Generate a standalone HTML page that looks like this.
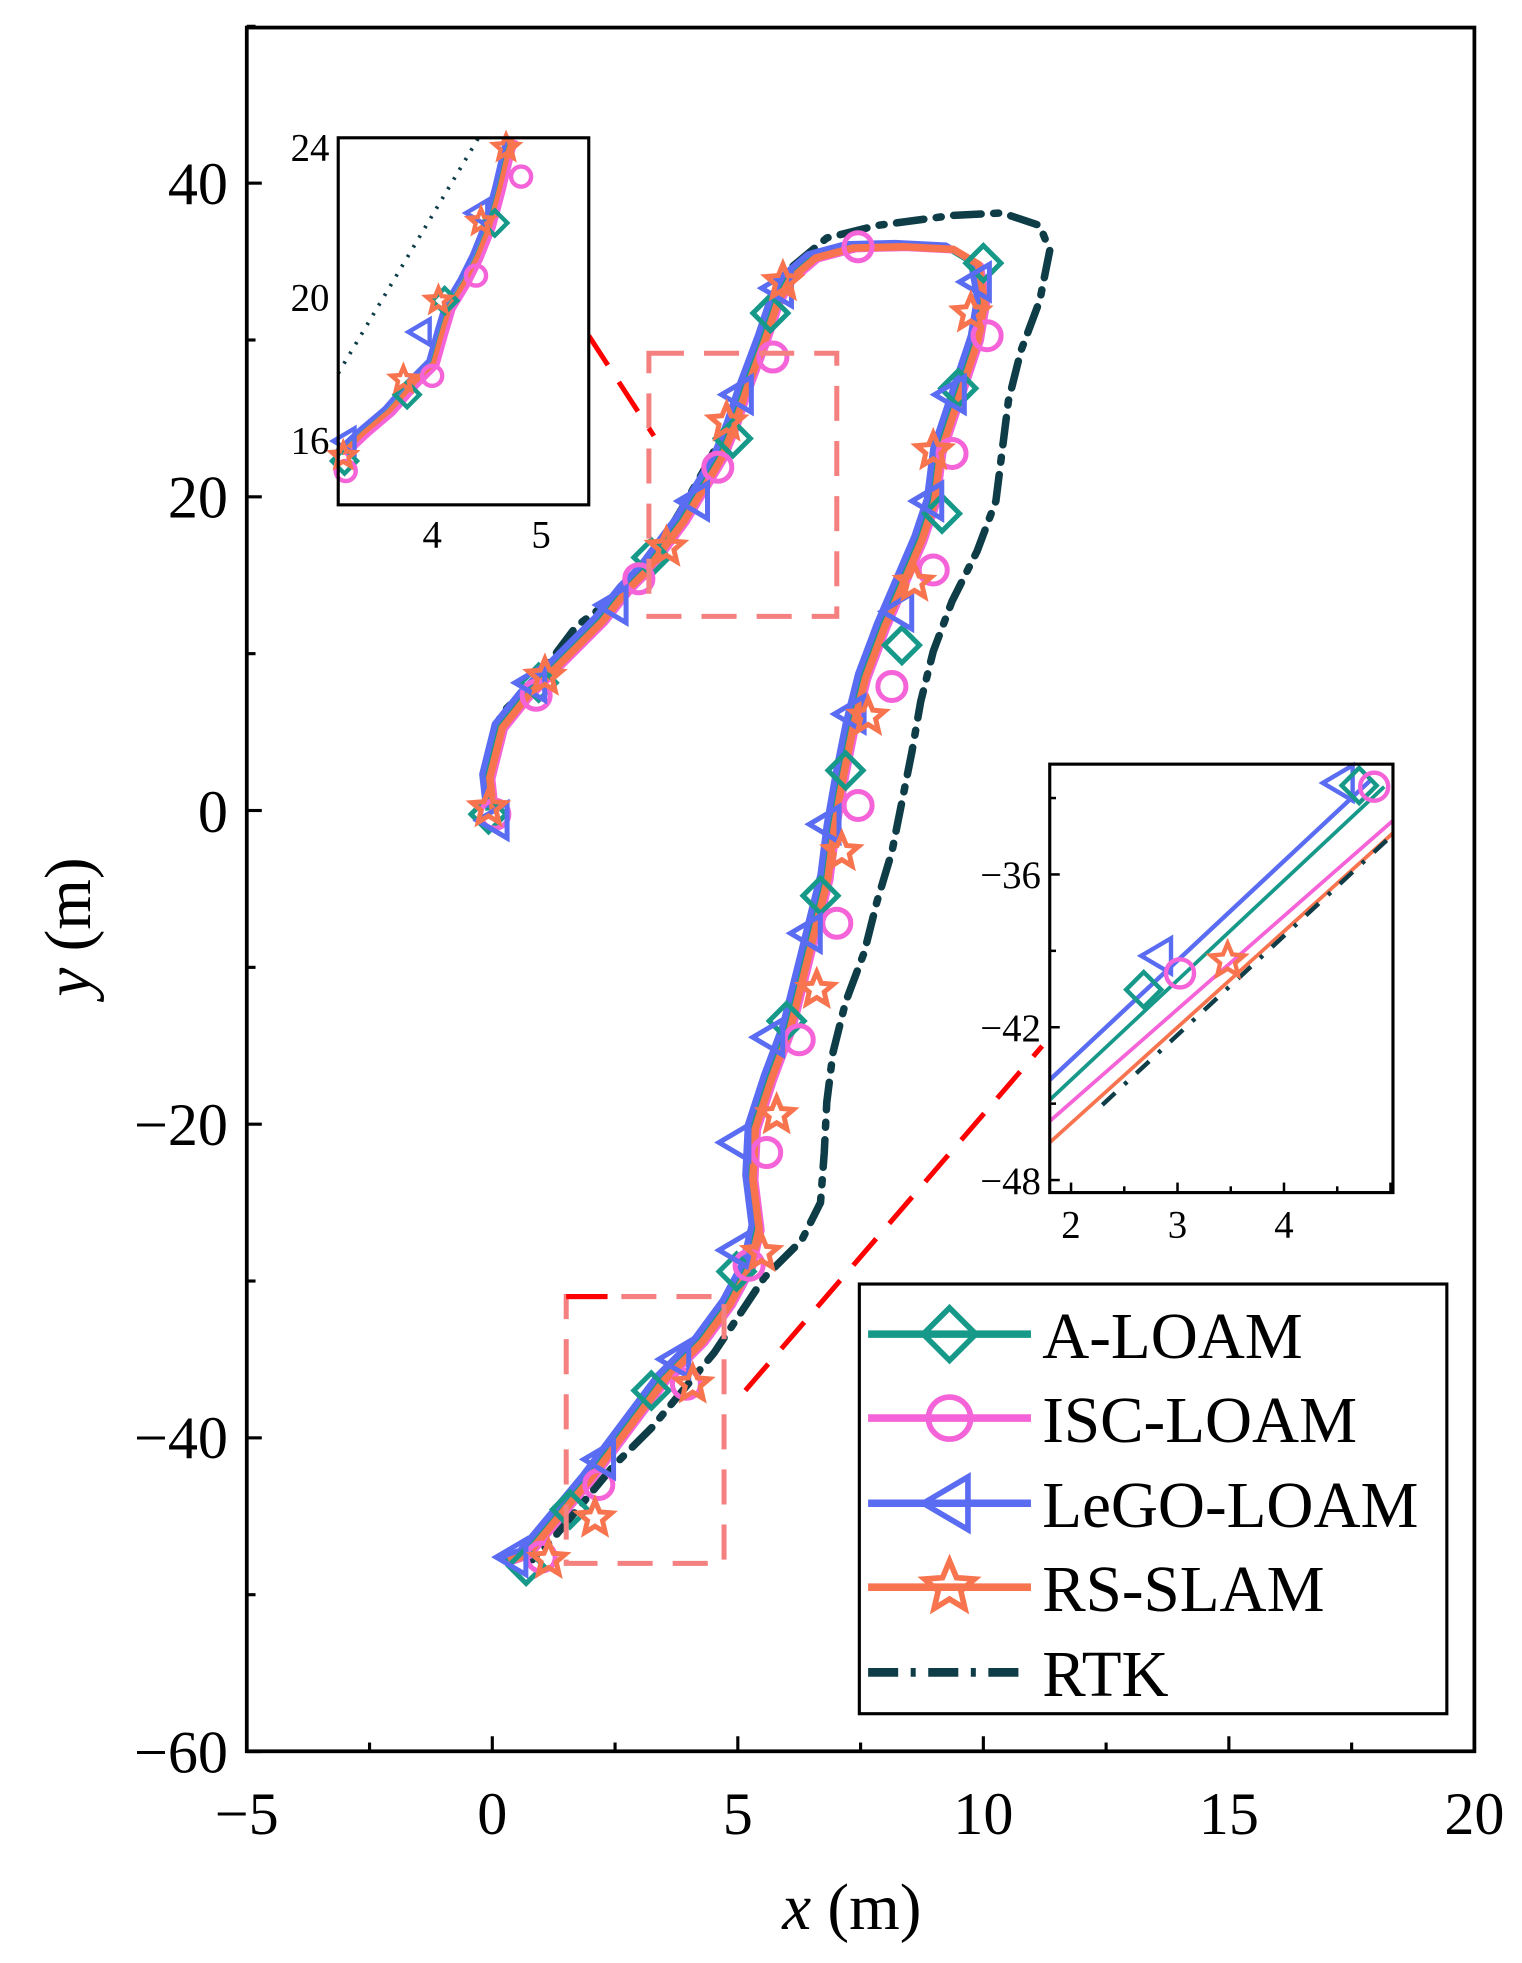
<!DOCTYPE html>
<html><head><meta charset="utf-8"><style>
html,body{margin:0;padding:0;background:#fff}
svg{display:block}
text{font-family:"Liberation Serif",serif;fill:#000}
</style></head><body>
<svg id="s" width="1522" height="1963" viewBox="0 0 1215 1567" preserveAspectRatio="none" xmlns="http://www.w3.org/2000/svg">
<rect width="1215" height="1567" fill="#fff"/>
<g id="main"></g>
<rect x="197" y="22" width="980" height="1376" fill="none" stroke="#000" stroke-width="3"/>
<g id="ticks" stroke="#000" stroke-width="2.5"></g>
<g font-size="48" text-anchor="middle">
<text x="197" y="1464">−5</text><text x="393" y="1464">0</text><text x="589" y="1464">5</text><text x="785" y="1464">10</text><text x="981" y="1464">15</text><text x="1177" y="1464">20</text>
</g>
<g font-size="48" text-anchor="end">
<text x="182" y="163">40</text><text x="182" y="413">20</text><text x="182" y="664">0</text><text x="182" y="914">−20</text><text x="182" y="1164">−40</text><text x="182" y="1415">−60</text>
</g>
<text x="680" y="1540" font-size="52" text-anchor="middle"><tspan font-style="italic">x</tspan> (m)</text>
<text transform="translate(72,740) rotate(-90)" font-size="52" text-anchor="middle"><tspan font-style="italic">y</tspan> (m)</text>
<rect x="518" y="282" width="150" height="210" fill="none" stroke="#f58080" stroke-width="4" stroke-dasharray="28,16"/>
<line x1="470" y1="268" x2="522" y2="348" stroke="#f00" stroke-width="4" stroke-dasharray="28,16"/>
<rect x="452" y="1035" width="126" height="213" fill="none" stroke="#f58080" stroke-width="4" stroke-dasharray="28,16"/>
<line x1="452" y1="1035" x2="485" y2="1035" stroke="#f00" stroke-width="4"/>
<line x1="595" y1="1110" x2="832" y2="835" stroke="#f00" stroke-width="4" stroke-dasharray="28,16"/>
<rect x="270" y="110" width="200" height="293" fill="#fff"/>
<g id="in1"></g>
<rect x="270" y="110" width="200" height="293" fill="none" stroke="#000" stroke-width="2.5"/>
<g font-size="31" text-anchor="middle"><text x="345" y="437">4</text><text x="432" y="437">5</text></g>
<g font-size="31" text-anchor="end"><text x="263" y="128">24</text><text x="263" y="248">20</text><text x="263" y="362">16</text></g>
<rect x="838" y="610" width="274" height="342" fill="#fff"/>
<g id="in2"></g>
<rect x="838" y="610" width="274" height="342" fill="none" stroke="#000" stroke-width="2.5"/>
<g font-size="31" text-anchor="middle"><text x="855" y="988">2</text><text x="940" y="988">3</text><text x="1025" y="988">4</text></g>
<g font-size="31" text-anchor="end"><text x="831" y="709">−36</text><text x="831" y="831">−42</text><text x="831" y="953">−48</text></g>
<rect x="686" y="1025" width="469" height="343" fill="#fff" stroke="#000" stroke-width="2.5"/>
<g id="leg"></g>
<g font-size="52"><text x="832" y="1084">A-LOAM</text><text x="832" y="1151">ISC-LOAM</text><text x="832" y="1219">LeGO-LOAM</text><text x="832" y="1286">RS-SLAM</text><text x="832" y="1354">RTK</text></g>
</svg>
<script>
const NS="http://www.w3.org/2000/svg";
function el(p,t,a){const e=document.createElementNS(NS,t);for(const k in a)e.setAttribute(k,a[k]);p.appendChild(e);return e;}
const C={a:"#17998a",i:"#f563d8",l:"#5a6cf2",r:"#f7744f",t:"#0e3d48"};
function pth(pts,dx,dy){return "M"+pts.map(p=>(p[0]+dx)+","+(p[1]+dy)).join(" L");}
function marker(g,type,x,y,s,col,w){
 if(type=="a"){el(g,"polygon",{points:`${x},${y-s} ${x+s},${y} ${x},${y+s} ${x-s},${y}`,fill:"none",stroke:col,"stroke-width":w});}
 else if(type=="i"){el(g,"circle",{cx:x,cy:y,r:s*0.8,fill:"none",stroke:col,"stroke-width":w});}
 else if(type=="l"){el(g,"polygon",{points:`${x-s},${y} ${x+s*0.7},${y-s} ${x+s*0.7},${y+s}`,fill:"none",stroke:col,"stroke-width":w});}
 else if(type=="r"){let p=[];for(let k=0;k<10;k++){const a=-Math.PI/2+k*Math.PI/5,rr=k%2?s*0.45:s;p.push((x+rr*Math.cos(a)).toFixed(1)+","+(y+rr*Math.sin(a)).toFixed(1));}
  el(g,"polygon",{points:p.join(" "),fill:"none",stroke:col,"stroke-width":w});}
}
const main=document.getElementById("main");
const P=[[393,647],[390,620],[400,580],[420,555],[440,535],[460,515],[480,495],[500,470],[515,455],[530,435],[545,415],[560,390],[575,365],[585,340],[595,310],[610,270],[620,240],[630,222],[650,205],[680,197],[720,196],[760,198],[780,210],[785,240],[780,270],[770,300],[760,330],[750,360],[745,400],[735,430],[720,465],[705,500],[690,540],[680,580],[672,620],[665,660],[660,700],[650,740],[640,780],[630,820],[615,860],[602,900],[600,940],[605,980],[598,1010],[582,1040],[560,1070],[530,1100],[500,1140],[470,1180],[445,1210],[420,1240],[405,1245]];
const R=[[390,640],[388,610],[400,570],[430,540],[460,500],[500,470],[530,430],[545,405],[565,370],[580,340],[600,290],[615,250],[630,215],[660,190],[700,180],[760,172],[800,170],[830,180],[838,200],[830,240],[815,280],[805,320],[800,360],[795,400],[780,440],[760,480],[745,520],[735,560],[728,600],[720,640],[712,680],[700,720],[690,760],[675,800],[665,840],[660,880],[658,920],[655,960],[640,990],[610,1020],[590,1050],[570,1080],[545,1110],[520,1140],[490,1170],[465,1200],[440,1230],[425,1245]];
el(main,"path",{d:pth(R,0,0),fill:"none",stroke:C.t,"stroke-width":6,"stroke-dasharray":"22,10,4,10","stroke-linecap":"round"});
el(main,"path",{d:pth(P,-3,0),fill:"none",stroke:C.a,"stroke-width":5});
el(main,"path",{d:pth(P,-5,-2),fill:"none",stroke:C.l,"stroke-width":5});
el(main,"path",{d:pth(P,3,2),fill:"none",stroke:C.i,"stroke-width":5});
el(main,"path",{d:pth(P,1,1),fill:"none",stroke:C.r,"stroke-width":6});
const M={a:[[390,650],[430,545],[520,445],[585,350],[615,250],[785,210],[765,310],[752,410],[720,515],[675,615],[655,715],[628,815],[588,1015],[520,1110],[455,1205],[420,1250]],
i:[[395,650],[428,555],[510,462],[573,373],[617,285],[685,197],[788,268],[760,362],[745,455],[712,548],[685,643],[668,737],[638,830],[612,920],[598,1010],[548,1105],[478,1185],[432,1243]],
l:[[395,655],[425,545],[490,483],[555,400],[590,315],[622,230],[780,225],[760,315],[742,400],[718,488],[680,570],[660,658],[645,745],[615,828],[588,912],[588,998],[540,1085],[480,1165],[410,1243]],
r:[[390,645],[435,540],[532,437],[580,337],[625,225],[775,250],[745,360],[730,465],[693,572],[672,680],[652,790],[620,890],[608,1000],[553,1105],[475,1212],[438,1245]]};
for(const k of ["a","i","l","r"])for(const p of M[k])marker(main,k,p[0],p[1],14,C[k],4);
const t=document.getElementById("ticks");
for(let v=-5;v<=20;v+=2.5){const x=197+(v+5)*39.2,L=(v%5==0)?12:7;el(t,"line",{x1:x,y1:1398,x2:x,y2:1398-L});}
for(let v=-60;v<=50;v+=10){const y=647-v*12.52,L=(v%20==0)?12:7;el(t,"line",{x1:197,y1:y,x2:197+L,y2:y});}
const g1=document.getElementById("in1");
const Q=[[272,362],[290,345],[310,328],[330,305],[345,290],[352,265],[358,245],[370,225],[380,205],[390,180],[398,150],[405,120],[408,110]];
el(g1,"path",{d:"M270,298 L382,110",stroke:C.t,"stroke-width":3,"stroke-dasharray":"2,7",fill:"none"});
el(g1,"path",{d:pth(Q,0,0),stroke:C.a,"stroke-width":3.5,fill:"none"});
el(g1,"path",{d:pth(Q,-3,-2),stroke:C.l,"stroke-width":3.5,fill:"none"});
el(g1,"path",{d:pth(Q,4,2),stroke:C.i,"stroke-width":3.5,fill:"none"});
el(g1,"path",{d:pth(Q,1,0),stroke:C.r,"stroke-width":4,fill:"none"});
[[275,368,"a"],[325,315,"a"],[355,240,"a"],[395,178,"a"],[276,376,"i"],[345,300,"i"],[380,220,"i"],[416,141,"i"],[276,352,"l"],[336,265,"l"],[382,170,"l"],[274,364,"r"],[322,303,"r"],[350,240,"r"],[384,177,"r"],[404,118,"r"]].forEach(m=>marker(g1,m[2],m[0],m[1],10,C[m[2]],3.5));
const g2=document.getElementById("in2");
function line2(x1,y1,x2,y2,c,w,da){const a={d:`M${x1},${y1} L${x2},${y2}`,stroke:c,"stroke-width":w,fill:"none"};if(da)a["stroke-dasharray"]=da;el(g2,"path",a);}
line2(838,862,1095,622,C.l,3.5);
line2(838,878,1105,628,C.a,3);
line2(838,895,1112,655,C.i,3);
line2(838,912,1112,665,C.r,3);
line2(880,882,1110,668,C.t,3.5,"14,10,3,10");
[[913,790,"a"],[925,763,"l"],[942,777,"i"],[980,767,"r"],[1070,625,"l"],[1085,627,"a"],[1097,628,"i"]].forEach(m=>marker(g2,m[2],m[0],m[1],14,C[m[2]],3.5));
for(let v=2;v<=5;v+=0.5){const x=855+(v-2)*85;el(g2,"line",{x1:x,y1:952,x2:x,y2:952-(v%1==0?8:5),stroke:"#000","stroke-width":2});}
for(let v=-48;v<=-33;v+=3){const y=942-(v+48)*20.33;el(g2,"line",{x1:838,y1:y,x2:838+(v%6==0?8:5),y2:y,stroke:"#000","stroke-width":2});}
const lg=document.getElementById("leg");const ys=[1065,1132,1200,1267,1335];
["a","i","l","r"].forEach((k,i)=>{el(lg,"line",{x1:693,y1:ys[i],x2:823,y2:ys[i],stroke:C[k],"stroke-width":6});marker(lg,k,758,ys[i],21,C[k],4.5);});
el(lg,"line",{x1:693,y1:1335,x2:823,y2:1335,stroke:C.t,"stroke-width":7,"stroke-dasharray":"24,10,4,10"});
</script>
</body></html>
